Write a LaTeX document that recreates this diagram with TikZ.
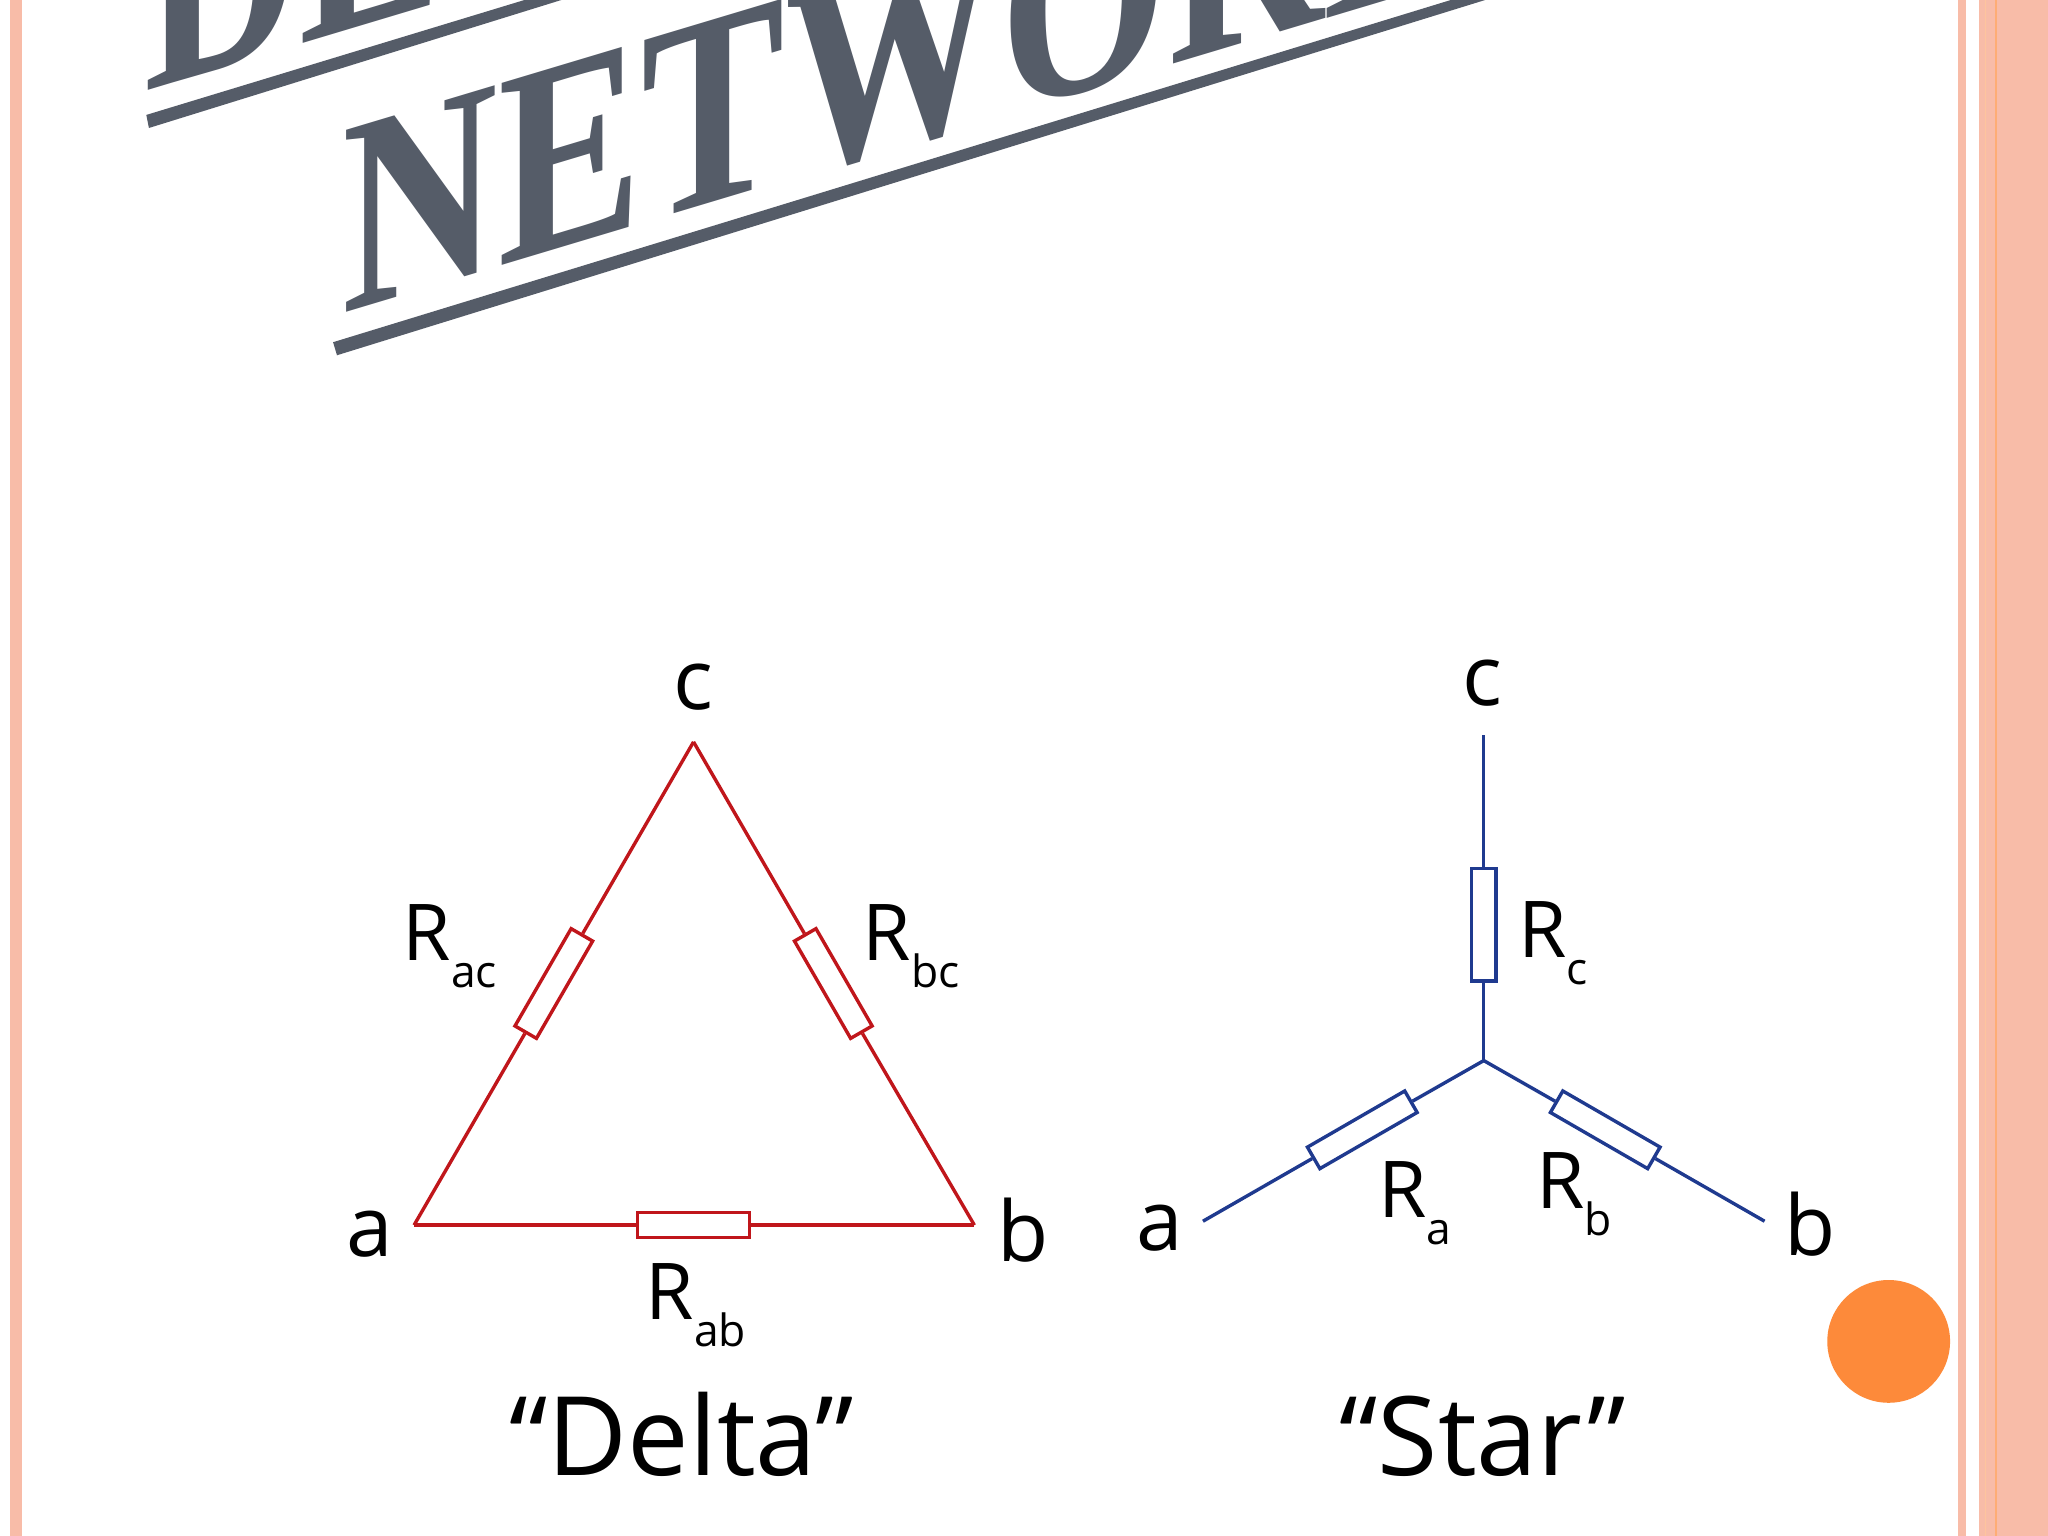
\documentclass[tikz,border=0pt]{standalone}
\usepackage{fontspec}
\setmainfont{Open Sans}
\newfontfamily\titlefont{Liberation Serif}
\definecolor{dred}{HTML}{C0161B}
\definecolor{dblue}{HTML}{1F3A8F}
\definecolor{tgray}{HTML}{555C68}
\definecolor{pinkb}{HTML}{F8BCA8}
\definecolor{orng}{HTML}{FD8A3A}
\tikzset{
 res/.style={draw,fill=white,line width=1.3pt,minimum width=43pt,minimum height=9.5pt,inner sep=0pt},
 lbl/.style={font=\fontsize{32}{32}\selectfont,inner sep=0pt},
 rl/.style={font=\fontsize{30}{30}\selectfont,inner sep=0pt,anchor=base west},
 captxt/.style={font=\fontsize{42}{42}\selectfont,inner sep=0pt},
 ttl/.style={yslant=0.3,xscale=1.03,yscale=1.33,anchor=base west,inner sep=0pt,text=tgray,font=\titlefont\bfseries\fontsize{80}{80}\selectfont},
}
\newcommand{\Rsub}[1]{R\raisebox{-0.35em}{\fontsize{17}{17}\selectfont #1}}
\begin{document}
\begin{tikzpicture}[x=0.5pt,y=-0.5pt]
\useasboundingbox (0,0) rectangle (1568,1176);
\fill[white] (0,0) rectangle (1568,1176);
% borders
\fill[pinkb] (8,0) rectangle (17,1176);
\fill[pinkb] (1499,0) rectangle (1505,1176);
\fill[pinkb] (1515,0) rectangle (1568,1176);
\draw[orng!70,line width=0.8pt] (1528,0) -- (1528,1176);
\draw[orng!50,line width=0.5pt] (1520,0) -- (1520,1176);
\fill[orng] (1446,1027) circle (47);
% title
\node[ttl] (t2) at (262,240) {NETWORK};
\node[ttl] (t1) at (110,70) {DELTA};
\fill[tgray] (255,262) -- (1150,-12) -- (1150,-4) -- (258,272) -- cycle;
\fill[tgray] (112,88) -- (520,-36) -- (520,-28) -- (114,98) -- cycle;
% delta
\begin{scope}[dred,line width=1.3pt]
\coordinate (a) at (317,938);
\coordinate (b) at (746,938);
\coordinate (c) at (531,568);
\node[res] (rab) at (531,938) {};
\node[res,rotate=60] (rac) at (424,753) {};
\node[res,rotate=120] (rbc) at (638,753) {};
\draw (a) -- (rab) -- (b);
\draw (a) -- (rac) -- (c);
\draw (b) -- (rbc) -- (c);
\end{scope}
\node[lbl] (la) at (283,945) {a};
\node[lbl] (lb) at (783,942) {b};
\node[lbl] (lc) at (531,526) {c};
\node[rl] (rlac) at (308,735) {\Rsub{ac}};
\node[rl] (rlbc) at (660,735) {\Rsub{bc}};
\node[rl] (rlab) at (494,1010) {\Rsub{ab}};
\node[captxt] (dl) at (522,1098) {“Delta”};
% star
\begin{scope}[dblue,line width=1.3pt]
\coordinate (o) at (1136,812);
\coordinate (sa) at (921,935);
\coordinate (sb) at (1351,935);
\coordinate (sc) at (1136,563);
\node[res,rotate=90] (rc) at (1136,708) {};
\node[res,rotate=30] (ra) at (1043,865) {};
\node[res,rotate=-30] (rb) at (1229,865) {};
\draw (o) -- (rc) -- (sc);
\draw (o) -- (ra) -- (sa);
\draw (o) -- (rb) -- (sb);
\end{scope}
\node[lbl] (sla) at (888,940) {a};
\node[lbl] (slb) at (1386,937) {b};
\node[lbl] (slc) at (1135,523) {c};
\node[rl] (rlc) at (1162,733) {\Rsub{c}};
\node[rl] (rla) at (1055,932) {\Rsub{a}};
\node[rl] (rlb) at (1176,925) {\Rsub{b}};
\node[captxt] (st) at (1135,1100) {“Star”};
\end{tikzpicture}
\end{document}
